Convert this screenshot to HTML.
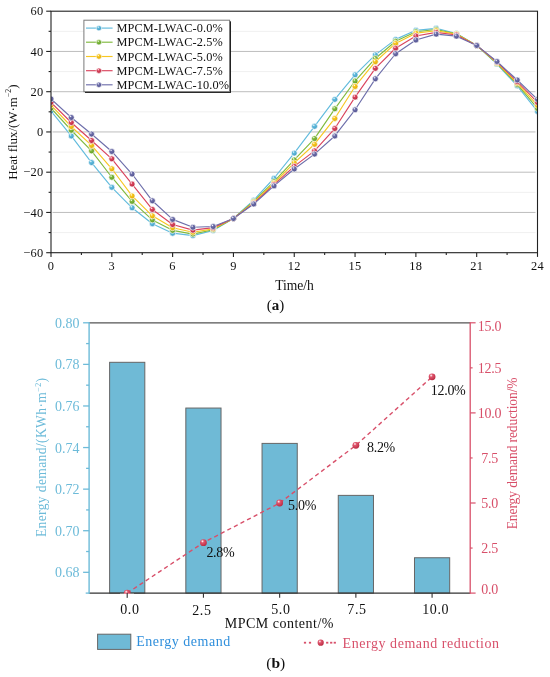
<!DOCTYPE html>
<html><head><meta charset="utf-8"><title>Figure</title>
<style>html,body{margin:0;padding:0;background:#fff}svg{display:block}</style></head>
<body>
<svg width="550" height="677" viewBox="0 0 550 677" font-family="'Liberation Serif', serif">
<defs>
<radialGradient id="gblue" cx="0.38" cy="0.32" r="0.7"><stop offset="0" stop-color="#ffffff"/><stop offset="0.28" stop-color="#62bbdd" stop-opacity="1"/><stop offset="1" stop-color="#3f9cc4"/></radialGradient>
<radialGradient id="ggreen" cx="0.38" cy="0.32" r="0.7"><stop offset="0" stop-color="#ffffff"/><stop offset="0.28" stop-color="#80ba3e" stop-opacity="1"/><stop offset="1" stop-color="#5f9a25"/></radialGradient>
<radialGradient id="gyellow" cx="0.38" cy="0.32" r="0.7"><stop offset="0" stop-color="#ffffff"/><stop offset="0.28" stop-color="#f7c722" stop-opacity="1"/><stop offset="1" stop-color="#e0a800"/></radialGradient>
<radialGradient id="gred" cx="0.38" cy="0.32" r="0.7"><stop offset="0" stop-color="#ffffff"/><stop offset="0.28" stop-color="#da455e" stop-opacity="1"/><stop offset="1" stop-color="#b8283f"/></radialGradient>
<radialGradient id="gpurple" cx="0.38" cy="0.32" r="0.7"><stop offset="0" stop-color="#ffffff"/><stop offset="0.28" stop-color="#6e6fab" stop-opacity="1"/><stop offset="1" stop-color="#4f4f8c"/></radialGradient>
<radialGradient id="gr2" cx="0.36" cy="0.3" r="0.75"><stop offset="0" stop-color="#ffffff"/><stop offset="0.3" stop-color="#e0566e"/><stop offset="1" stop-color="#b8283f"/></radialGradient>
<clipPath id="clipA"><rect x="51.0" y="11.2" width="486.5" height="241.5"/></clipPath>
</defs>
<rect width="550" height="677" fill="#ffffff"/>
<line x1="52.5" x2="535.5" y1="232.57" y2="232.57" stroke="#f0f0f0" stroke-width="1"/>
<line x1="52.5" x2="535.5" y1="212.45" y2="212.45" stroke="#b9b9b9" stroke-width="0.95"/>
<line x1="52.5" x2="535.5" y1="192.32" y2="192.32" stroke="#f0f0f0" stroke-width="1"/>
<line x1="52.5" x2="535.5" y1="172.20" y2="172.20" stroke="#b9b9b9" stroke-width="0.95"/>
<line x1="52.5" x2="535.5" y1="152.07" y2="152.07" stroke="#f0f0f0" stroke-width="1"/>
<line x1="52.5" x2="535.5" y1="131.95" y2="131.95" stroke="#b9b9b9" stroke-width="0.95"/>
<line x1="52.5" x2="535.5" y1="111.82" y2="111.82" stroke="#f0f0f0" stroke-width="1"/>
<line x1="52.5" x2="535.5" y1="91.70" y2="91.70" stroke="#b9b9b9" stroke-width="0.95"/>
<line x1="52.5" x2="535.5" y1="71.57" y2="71.57" stroke="#f0f0f0" stroke-width="1"/>
<line x1="52.5" x2="535.5" y1="51.45" y2="51.45" stroke="#b9b9b9" stroke-width="0.95"/>
<line x1="52.5" x2="535.5" y1="31.32" y2="31.32" stroke="#f0f0f0" stroke-width="1"/>
<g clip-path="url(#clipA)">
<polyline points="51.00,111.02 71.27,135.97 91.54,162.54 111.81,187.29 132.08,207.82 152.35,223.72 172.62,233.18 192.90,235.59 213.17,230.56 233.44,218.49 253.71,200.17 273.98,178.24 294.25,153.08 314.52,126.31 334.79,99.35 355.06,74.79 375.33,54.87 395.60,39.38 415.88,30.32 436.15,28.31 456.42,33.54 476.69,45.41 496.96,64.13 517.23,85.86 537.50,111.42" fill="none" stroke="#62bbdd" stroke-width="1.15" stroke-linejoin="round"/>
<circle cx="51.00" cy="111.02" r="2.95" fill="url(#gblue)" stroke="#fff" stroke-opacity="0.85" stroke-width="0.8"/>
<circle cx="71.27" cy="135.97" r="2.95" fill="url(#gblue)" stroke="#fff" stroke-opacity="0.85" stroke-width="0.8"/>
<circle cx="91.54" cy="162.54" r="2.95" fill="url(#gblue)" stroke="#fff" stroke-opacity="0.85" stroke-width="0.8"/>
<circle cx="111.81" cy="187.29" r="2.95" fill="url(#gblue)" stroke="#fff" stroke-opacity="0.85" stroke-width="0.8"/>
<circle cx="132.08" cy="207.82" r="2.95" fill="url(#gblue)" stroke="#fff" stroke-opacity="0.85" stroke-width="0.8"/>
<circle cx="152.35" cy="223.72" r="2.95" fill="url(#gblue)" stroke="#fff" stroke-opacity="0.85" stroke-width="0.8"/>
<circle cx="172.62" cy="233.18" r="2.95" fill="url(#gblue)" stroke="#fff" stroke-opacity="0.85" stroke-width="0.8"/>
<circle cx="192.90" cy="235.59" r="2.95" fill="url(#gblue)" stroke="#fff" stroke-opacity="0.85" stroke-width="0.8"/>
<circle cx="213.17" cy="230.56" r="2.95" fill="url(#gblue)" stroke="#fff" stroke-opacity="0.85" stroke-width="0.8"/>
<circle cx="233.44" cy="218.49" r="2.95" fill="url(#gblue)" stroke="#fff" stroke-opacity="0.85" stroke-width="0.8"/>
<circle cx="253.71" cy="200.17" r="2.95" fill="url(#gblue)" stroke="#fff" stroke-opacity="0.85" stroke-width="0.8"/>
<circle cx="273.98" cy="178.24" r="2.95" fill="url(#gblue)" stroke="#fff" stroke-opacity="0.85" stroke-width="0.8"/>
<circle cx="294.25" cy="153.08" r="2.95" fill="url(#gblue)" stroke="#fff" stroke-opacity="0.85" stroke-width="0.8"/>
<circle cx="314.52" cy="126.31" r="2.95" fill="url(#gblue)" stroke="#fff" stroke-opacity="0.85" stroke-width="0.8"/>
<circle cx="334.79" cy="99.35" r="2.95" fill="url(#gblue)" stroke="#fff" stroke-opacity="0.85" stroke-width="0.8"/>
<circle cx="355.06" cy="74.79" r="2.95" fill="url(#gblue)" stroke="#fff" stroke-opacity="0.85" stroke-width="0.8"/>
<circle cx="375.33" cy="54.87" r="2.95" fill="url(#gblue)" stroke="#fff" stroke-opacity="0.85" stroke-width="0.8"/>
<circle cx="395.60" cy="39.38" r="2.95" fill="url(#gblue)" stroke="#fff" stroke-opacity="0.85" stroke-width="0.8"/>
<circle cx="415.88" cy="30.32" r="2.95" fill="url(#gblue)" stroke="#fff" stroke-opacity="0.85" stroke-width="0.8"/>
<circle cx="436.15" cy="28.31" r="2.95" fill="url(#gblue)" stroke="#fff" stroke-opacity="0.85" stroke-width="0.8"/>
<circle cx="456.42" cy="33.54" r="2.95" fill="url(#gblue)" stroke="#fff" stroke-opacity="0.85" stroke-width="0.8"/>
<circle cx="476.69" cy="45.41" r="2.95" fill="url(#gblue)" stroke="#fff" stroke-opacity="0.85" stroke-width="0.8"/>
<circle cx="496.96" cy="64.13" r="2.95" fill="url(#gblue)" stroke="#fff" stroke-opacity="0.85" stroke-width="0.8"/>
<circle cx="517.23" cy="85.86" r="2.95" fill="url(#gblue)" stroke="#fff" stroke-opacity="0.85" stroke-width="0.8"/>
<circle cx="537.50" cy="111.42" r="2.95" fill="url(#gblue)" stroke="#fff" stroke-opacity="0.85" stroke-width="0.8"/>
<polyline points="51.00,108.20 71.27,130.24 91.54,150.87 111.81,177.23 132.08,201.38 152.35,219.90 172.62,230.36 192.90,234.08 213.17,229.76 233.44,218.49 253.71,201.38 273.98,181.66 294.25,159.92 314.52,138.59 334.79,108.81 355.06,81.03 375.33,58.49 395.60,41.19 415.88,31.73 436.15,29.51 456.42,33.74 476.69,45.41 496.96,63.52 517.23,84.46 537.50,108.40" fill="none" stroke="#80ba3e" stroke-width="1.15" stroke-linejoin="round"/>
<circle cx="51.00" cy="108.20" r="2.95" fill="url(#ggreen)" stroke="#fff" stroke-opacity="0.85" stroke-width="0.8"/>
<circle cx="71.27" cy="130.24" r="2.95" fill="url(#ggreen)" stroke="#fff" stroke-opacity="0.85" stroke-width="0.8"/>
<circle cx="91.54" cy="150.87" r="2.95" fill="url(#ggreen)" stroke="#fff" stroke-opacity="0.85" stroke-width="0.8"/>
<circle cx="111.81" cy="177.23" r="2.95" fill="url(#ggreen)" stroke="#fff" stroke-opacity="0.85" stroke-width="0.8"/>
<circle cx="132.08" cy="201.38" r="2.95" fill="url(#ggreen)" stroke="#fff" stroke-opacity="0.85" stroke-width="0.8"/>
<circle cx="152.35" cy="219.90" r="2.95" fill="url(#ggreen)" stroke="#fff" stroke-opacity="0.85" stroke-width="0.8"/>
<circle cx="172.62" cy="230.36" r="2.95" fill="url(#ggreen)" stroke="#fff" stroke-opacity="0.85" stroke-width="0.8"/>
<circle cx="192.90" cy="234.08" r="2.95" fill="url(#ggreen)" stroke="#fff" stroke-opacity="0.85" stroke-width="0.8"/>
<circle cx="213.17" cy="229.76" r="2.95" fill="url(#ggreen)" stroke="#fff" stroke-opacity="0.85" stroke-width="0.8"/>
<circle cx="233.44" cy="218.49" r="2.95" fill="url(#ggreen)" stroke="#fff" stroke-opacity="0.85" stroke-width="0.8"/>
<circle cx="253.71" cy="201.38" r="2.95" fill="url(#ggreen)" stroke="#fff" stroke-opacity="0.85" stroke-width="0.8"/>
<circle cx="273.98" cy="181.66" r="2.95" fill="url(#ggreen)" stroke="#fff" stroke-opacity="0.85" stroke-width="0.8"/>
<circle cx="294.25" cy="159.92" r="2.95" fill="url(#ggreen)" stroke="#fff" stroke-opacity="0.85" stroke-width="0.8"/>
<circle cx="314.52" cy="138.59" r="2.95" fill="url(#ggreen)" stroke="#fff" stroke-opacity="0.85" stroke-width="0.8"/>
<circle cx="334.79" cy="108.81" r="2.95" fill="url(#ggreen)" stroke="#fff" stroke-opacity="0.85" stroke-width="0.8"/>
<circle cx="355.06" cy="81.03" r="2.95" fill="url(#ggreen)" stroke="#fff" stroke-opacity="0.85" stroke-width="0.8"/>
<circle cx="375.33" cy="58.49" r="2.95" fill="url(#ggreen)" stroke="#fff" stroke-opacity="0.85" stroke-width="0.8"/>
<circle cx="395.60" cy="41.19" r="2.95" fill="url(#ggreen)" stroke="#fff" stroke-opacity="0.85" stroke-width="0.8"/>
<circle cx="415.88" cy="31.73" r="2.95" fill="url(#ggreen)" stroke="#fff" stroke-opacity="0.85" stroke-width="0.8"/>
<circle cx="436.15" cy="29.51" r="2.95" fill="url(#ggreen)" stroke="#fff" stroke-opacity="0.85" stroke-width="0.8"/>
<circle cx="456.42" cy="33.74" r="2.95" fill="url(#ggreen)" stroke="#fff" stroke-opacity="0.85" stroke-width="0.8"/>
<circle cx="476.69" cy="45.41" r="2.95" fill="url(#ggreen)" stroke="#fff" stroke-opacity="0.85" stroke-width="0.8"/>
<circle cx="496.96" cy="63.52" r="2.95" fill="url(#ggreen)" stroke="#fff" stroke-opacity="0.85" stroke-width="0.8"/>
<circle cx="517.23" cy="84.46" r="2.95" fill="url(#ggreen)" stroke="#fff" stroke-opacity="0.85" stroke-width="0.8"/>
<circle cx="537.50" cy="108.40" r="2.95" fill="url(#ggreen)" stroke="#fff" stroke-opacity="0.85" stroke-width="0.8"/>
<polyline points="51.00,105.18 71.27,126.52 91.54,145.43 111.81,168.78 132.08,195.95 152.35,215.87 172.62,227.75 192.90,232.27 213.17,228.85 233.44,218.49 253.71,202.39 273.98,183.27 294.25,162.94 314.52,144.23 334.79,118.47 355.06,86.47 375.33,61.71 395.60,43.40 415.88,33.14 436.15,30.72 456.42,34.14 476.69,45.41 496.96,62.92 517.23,83.05 537.50,105.38" fill="none" stroke="#f7c722" stroke-width="1.15" stroke-linejoin="round"/>
<circle cx="51.00" cy="105.18" r="2.95" fill="url(#gyellow)" stroke="#fff" stroke-opacity="0.85" stroke-width="0.8"/>
<circle cx="71.27" cy="126.52" r="2.95" fill="url(#gyellow)" stroke="#fff" stroke-opacity="0.85" stroke-width="0.8"/>
<circle cx="91.54" cy="145.43" r="2.95" fill="url(#gyellow)" stroke="#fff" stroke-opacity="0.85" stroke-width="0.8"/>
<circle cx="111.81" cy="168.78" r="2.95" fill="url(#gyellow)" stroke="#fff" stroke-opacity="0.85" stroke-width="0.8"/>
<circle cx="132.08" cy="195.95" r="2.95" fill="url(#gyellow)" stroke="#fff" stroke-opacity="0.85" stroke-width="0.8"/>
<circle cx="152.35" cy="215.87" r="2.95" fill="url(#gyellow)" stroke="#fff" stroke-opacity="0.85" stroke-width="0.8"/>
<circle cx="172.62" cy="227.75" r="2.95" fill="url(#gyellow)" stroke="#fff" stroke-opacity="0.85" stroke-width="0.8"/>
<circle cx="192.90" cy="232.27" r="2.95" fill="url(#gyellow)" stroke="#fff" stroke-opacity="0.85" stroke-width="0.8"/>
<circle cx="213.17" cy="228.85" r="2.95" fill="url(#gyellow)" stroke="#fff" stroke-opacity="0.85" stroke-width="0.8"/>
<circle cx="233.44" cy="218.49" r="2.95" fill="url(#gyellow)" stroke="#fff" stroke-opacity="0.85" stroke-width="0.8"/>
<circle cx="253.71" cy="202.39" r="2.95" fill="url(#gyellow)" stroke="#fff" stroke-opacity="0.85" stroke-width="0.8"/>
<circle cx="273.98" cy="183.27" r="2.95" fill="url(#gyellow)" stroke="#fff" stroke-opacity="0.85" stroke-width="0.8"/>
<circle cx="294.25" cy="162.94" r="2.95" fill="url(#gyellow)" stroke="#fff" stroke-opacity="0.85" stroke-width="0.8"/>
<circle cx="314.52" cy="144.23" r="2.95" fill="url(#gyellow)" stroke="#fff" stroke-opacity="0.85" stroke-width="0.8"/>
<circle cx="334.79" cy="118.47" r="2.95" fill="url(#gyellow)" stroke="#fff" stroke-opacity="0.85" stroke-width="0.8"/>
<circle cx="355.06" cy="86.47" r="2.95" fill="url(#gyellow)" stroke="#fff" stroke-opacity="0.85" stroke-width="0.8"/>
<circle cx="375.33" cy="61.71" r="2.95" fill="url(#gyellow)" stroke="#fff" stroke-opacity="0.85" stroke-width="0.8"/>
<circle cx="395.60" cy="43.40" r="2.95" fill="url(#gyellow)" stroke="#fff" stroke-opacity="0.85" stroke-width="0.8"/>
<circle cx="415.88" cy="33.14" r="2.95" fill="url(#gyellow)" stroke="#fff" stroke-opacity="0.85" stroke-width="0.8"/>
<circle cx="436.15" cy="30.72" r="2.95" fill="url(#gyellow)" stroke="#fff" stroke-opacity="0.85" stroke-width="0.8"/>
<circle cx="456.42" cy="34.14" r="2.95" fill="url(#gyellow)" stroke="#fff" stroke-opacity="0.85" stroke-width="0.8"/>
<circle cx="476.69" cy="45.41" r="2.95" fill="url(#gyellow)" stroke="#fff" stroke-opacity="0.85" stroke-width="0.8"/>
<circle cx="496.96" cy="62.92" r="2.95" fill="url(#gyellow)" stroke="#fff" stroke-opacity="0.85" stroke-width="0.8"/>
<circle cx="517.23" cy="83.05" r="2.95" fill="url(#gyellow)" stroke="#fff" stroke-opacity="0.85" stroke-width="0.8"/>
<circle cx="537.50" cy="105.38" r="2.95" fill="url(#gyellow)" stroke="#fff" stroke-opacity="0.85" stroke-width="0.8"/>
<polyline points="51.00,102.37 71.27,122.49 91.54,140.50 111.81,158.82 132.08,184.07 152.35,209.43 172.62,224.52 192.90,230.16 213.17,227.64 233.44,218.49 253.71,203.39 273.98,184.68 294.25,166.36 314.52,150.87 334.79,128.53 355.06,97.13 375.33,68.36 395.60,48.23 415.88,35.95 436.15,32.33 456.42,34.95 476.69,45.41 496.96,62.12 517.23,81.64 537.50,102.37" fill="none" stroke="#da455e" stroke-width="1.15" stroke-linejoin="round"/>
<circle cx="51.00" cy="102.37" r="2.95" fill="url(#gred)" stroke="#fff" stroke-opacity="0.85" stroke-width="0.8"/>
<circle cx="71.27" cy="122.49" r="2.95" fill="url(#gred)" stroke="#fff" stroke-opacity="0.85" stroke-width="0.8"/>
<circle cx="91.54" cy="140.50" r="2.95" fill="url(#gred)" stroke="#fff" stroke-opacity="0.85" stroke-width="0.8"/>
<circle cx="111.81" cy="158.82" r="2.95" fill="url(#gred)" stroke="#fff" stroke-opacity="0.85" stroke-width="0.8"/>
<circle cx="132.08" cy="184.07" r="2.95" fill="url(#gred)" stroke="#fff" stroke-opacity="0.85" stroke-width="0.8"/>
<circle cx="152.35" cy="209.43" r="2.95" fill="url(#gred)" stroke="#fff" stroke-opacity="0.85" stroke-width="0.8"/>
<circle cx="172.62" cy="224.52" r="2.95" fill="url(#gred)" stroke="#fff" stroke-opacity="0.85" stroke-width="0.8"/>
<circle cx="192.90" cy="230.16" r="2.95" fill="url(#gred)" stroke="#fff" stroke-opacity="0.85" stroke-width="0.8"/>
<circle cx="213.17" cy="227.64" r="2.95" fill="url(#gred)" stroke="#fff" stroke-opacity="0.85" stroke-width="0.8"/>
<circle cx="233.44" cy="218.49" r="2.95" fill="url(#gred)" stroke="#fff" stroke-opacity="0.85" stroke-width="0.8"/>
<circle cx="253.71" cy="203.39" r="2.95" fill="url(#gred)" stroke="#fff" stroke-opacity="0.85" stroke-width="0.8"/>
<circle cx="273.98" cy="184.68" r="2.95" fill="url(#gred)" stroke="#fff" stroke-opacity="0.85" stroke-width="0.8"/>
<circle cx="294.25" cy="166.36" r="2.95" fill="url(#gred)" stroke="#fff" stroke-opacity="0.85" stroke-width="0.8"/>
<circle cx="314.52" cy="150.87" r="2.95" fill="url(#gred)" stroke="#fff" stroke-opacity="0.85" stroke-width="0.8"/>
<circle cx="334.79" cy="128.53" r="2.95" fill="url(#gred)" stroke="#fff" stroke-opacity="0.85" stroke-width="0.8"/>
<circle cx="355.06" cy="97.13" r="2.95" fill="url(#gred)" stroke="#fff" stroke-opacity="0.85" stroke-width="0.8"/>
<circle cx="375.33" cy="68.36" r="2.95" fill="url(#gred)" stroke="#fff" stroke-opacity="0.85" stroke-width="0.8"/>
<circle cx="395.60" cy="48.23" r="2.95" fill="url(#gred)" stroke="#fff" stroke-opacity="0.85" stroke-width="0.8"/>
<circle cx="415.88" cy="35.95" r="2.95" fill="url(#gred)" stroke="#fff" stroke-opacity="0.85" stroke-width="0.8"/>
<circle cx="436.15" cy="32.33" r="2.95" fill="url(#gred)" stroke="#fff" stroke-opacity="0.85" stroke-width="0.8"/>
<circle cx="456.42" cy="34.95" r="2.95" fill="url(#gred)" stroke="#fff" stroke-opacity="0.85" stroke-width="0.8"/>
<circle cx="476.69" cy="45.41" r="2.95" fill="url(#gred)" stroke="#fff" stroke-opacity="0.85" stroke-width="0.8"/>
<circle cx="496.96" cy="62.12" r="2.95" fill="url(#gred)" stroke="#fff" stroke-opacity="0.85" stroke-width="0.8"/>
<circle cx="517.23" cy="81.64" r="2.95" fill="url(#gred)" stroke="#fff" stroke-opacity="0.85" stroke-width="0.8"/>
<circle cx="537.50" cy="102.37" r="2.95" fill="url(#gred)" stroke="#fff" stroke-opacity="0.85" stroke-width="0.8"/>
<polyline points="51.00,98.94 71.27,117.46 91.54,134.06 111.81,151.47 132.08,174.01 152.35,200.78 172.62,219.39 192.90,227.24 213.17,226.54 233.44,218.49 253.71,204.00 273.98,185.88 294.25,168.98 314.52,154.09 334.79,135.97 355.06,109.81 375.33,78.82 395.60,53.76 415.88,39.98 436.15,34.14 456.42,36.16 476.69,45.41 496.96,61.51 517.23,80.03 537.50,99.35" fill="none" stroke="#6e6fab" stroke-width="1.15" stroke-linejoin="round"/>
<circle cx="51.00" cy="98.94" r="2.95" fill="url(#gpurple)" stroke="#fff" stroke-opacity="0.85" stroke-width="0.8"/>
<circle cx="71.27" cy="117.46" r="2.95" fill="url(#gpurple)" stroke="#fff" stroke-opacity="0.85" stroke-width="0.8"/>
<circle cx="91.54" cy="134.06" r="2.95" fill="url(#gpurple)" stroke="#fff" stroke-opacity="0.85" stroke-width="0.8"/>
<circle cx="111.81" cy="151.47" r="2.95" fill="url(#gpurple)" stroke="#fff" stroke-opacity="0.85" stroke-width="0.8"/>
<circle cx="132.08" cy="174.01" r="2.95" fill="url(#gpurple)" stroke="#fff" stroke-opacity="0.85" stroke-width="0.8"/>
<circle cx="152.35" cy="200.78" r="2.95" fill="url(#gpurple)" stroke="#fff" stroke-opacity="0.85" stroke-width="0.8"/>
<circle cx="172.62" cy="219.39" r="2.95" fill="url(#gpurple)" stroke="#fff" stroke-opacity="0.85" stroke-width="0.8"/>
<circle cx="192.90" cy="227.24" r="2.95" fill="url(#gpurple)" stroke="#fff" stroke-opacity="0.85" stroke-width="0.8"/>
<circle cx="213.17" cy="226.54" r="2.95" fill="url(#gpurple)" stroke="#fff" stroke-opacity="0.85" stroke-width="0.8"/>
<circle cx="233.44" cy="218.49" r="2.95" fill="url(#gpurple)" stroke="#fff" stroke-opacity="0.85" stroke-width="0.8"/>
<circle cx="253.71" cy="204.00" r="2.95" fill="url(#gpurple)" stroke="#fff" stroke-opacity="0.85" stroke-width="0.8"/>
<circle cx="273.98" cy="185.88" r="2.95" fill="url(#gpurple)" stroke="#fff" stroke-opacity="0.85" stroke-width="0.8"/>
<circle cx="294.25" cy="168.98" r="2.95" fill="url(#gpurple)" stroke="#fff" stroke-opacity="0.85" stroke-width="0.8"/>
<circle cx="314.52" cy="154.09" r="2.95" fill="url(#gpurple)" stroke="#fff" stroke-opacity="0.85" stroke-width="0.8"/>
<circle cx="334.79" cy="135.97" r="2.95" fill="url(#gpurple)" stroke="#fff" stroke-opacity="0.85" stroke-width="0.8"/>
<circle cx="355.06" cy="109.81" r="2.95" fill="url(#gpurple)" stroke="#fff" stroke-opacity="0.85" stroke-width="0.8"/>
<circle cx="375.33" cy="78.82" r="2.95" fill="url(#gpurple)" stroke="#fff" stroke-opacity="0.85" stroke-width="0.8"/>
<circle cx="395.60" cy="53.76" r="2.95" fill="url(#gpurple)" stroke="#fff" stroke-opacity="0.85" stroke-width="0.8"/>
<circle cx="415.88" cy="39.98" r="2.95" fill="url(#gpurple)" stroke="#fff" stroke-opacity="0.85" stroke-width="0.8"/>
<circle cx="436.15" cy="34.14" r="2.95" fill="url(#gpurple)" stroke="#fff" stroke-opacity="0.85" stroke-width="0.8"/>
<circle cx="456.42" cy="36.16" r="2.95" fill="url(#gpurple)" stroke="#fff" stroke-opacity="0.85" stroke-width="0.8"/>
<circle cx="476.69" cy="45.41" r="2.95" fill="url(#gpurple)" stroke="#fff" stroke-opacity="0.85" stroke-width="0.8"/>
<circle cx="496.96" cy="61.51" r="2.95" fill="url(#gpurple)" stroke="#fff" stroke-opacity="0.85" stroke-width="0.8"/>
<circle cx="517.23" cy="80.03" r="2.95" fill="url(#gpurple)" stroke="#fff" stroke-opacity="0.85" stroke-width="0.8"/>
<circle cx="537.50" cy="99.35" r="2.95" fill="url(#gpurple)" stroke="#fff" stroke-opacity="0.85" stroke-width="0.8"/>
</g>
<rect x="51.0" y="11.2" width="486.5" height="241.5" fill="none" stroke="#222" stroke-width="1.1"/>
<line x1="46.2" x2="51.0" y1="252.70" y2="252.70" stroke="#222" stroke-width="1.1"/>
<text x="43.6" y="256.95" font-size="12.4" letter-spacing="0.35" text-anchor="end" fill="#111">−60</text>
<line x1="48.6" x2="51.0" y1="232.57" y2="232.57" stroke="#222" stroke-width="1.1"/>
<line x1="46.2" x2="51.0" y1="212.45" y2="212.45" stroke="#222" stroke-width="1.1"/>
<text x="43.6" y="216.70" font-size="12.4" letter-spacing="0.35" text-anchor="end" fill="#111">−40</text>
<line x1="48.6" x2="51.0" y1="192.32" y2="192.32" stroke="#222" stroke-width="1.1"/>
<line x1="46.2" x2="51.0" y1="172.20" y2="172.20" stroke="#222" stroke-width="1.1"/>
<text x="43.6" y="176.45" font-size="12.4" letter-spacing="0.35" text-anchor="end" fill="#111">−20</text>
<line x1="48.6" x2="51.0" y1="152.07" y2="152.07" stroke="#222" stroke-width="1.1"/>
<line x1="46.2" x2="51.0" y1="131.95" y2="131.95" stroke="#222" stroke-width="1.1"/>
<text x="43.6" y="136.20" font-size="12.4" letter-spacing="0.35" text-anchor="end" fill="#111">0</text>
<line x1="48.6" x2="51.0" y1="111.82" y2="111.82" stroke="#222" stroke-width="1.1"/>
<line x1="46.2" x2="51.0" y1="91.70" y2="91.70" stroke="#222" stroke-width="1.1"/>
<text x="43.6" y="95.95" font-size="12.4" letter-spacing="0.35" text-anchor="end" fill="#111">20</text>
<line x1="48.6" x2="51.0" y1="71.57" y2="71.57" stroke="#222" stroke-width="1.1"/>
<line x1="46.2" x2="51.0" y1="51.45" y2="51.45" stroke="#222" stroke-width="1.1"/>
<text x="43.6" y="55.70" font-size="12.4" letter-spacing="0.35" text-anchor="end" fill="#111">40</text>
<line x1="48.6" x2="51.0" y1="31.32" y2="31.32" stroke="#222" stroke-width="1.1"/>
<line x1="46.2" x2="51.0" y1="11.20" y2="11.20" stroke="#222" stroke-width="1.1"/>
<text x="43.6" y="15.45" font-size="12.4" letter-spacing="0.35" text-anchor="end" fill="#111">60</text>
<line x1="51.00" x2="51.00" y1="252.7" y2="256.9" stroke="#222" stroke-width="1.1"/>
<text x="51.00" y="269.5" font-size="12.4" letter-spacing="0.35" text-anchor="middle" fill="#111">0</text>
<line x1="81.41" x2="81.41" y1="252.7" y2="254.89999999999998" stroke="#222" stroke-width="1.1"/>
<line x1="111.81" x2="111.81" y1="252.7" y2="256.9" stroke="#222" stroke-width="1.1"/>
<text x="111.81" y="269.5" font-size="12.4" letter-spacing="0.35" text-anchor="middle" fill="#111">3</text>
<line x1="142.22" x2="142.22" y1="252.7" y2="254.89999999999998" stroke="#222" stroke-width="1.1"/>
<line x1="172.62" x2="172.62" y1="252.7" y2="256.9" stroke="#222" stroke-width="1.1"/>
<text x="172.62" y="269.5" font-size="12.4" letter-spacing="0.35" text-anchor="middle" fill="#111">6</text>
<line x1="203.03" x2="203.03" y1="252.7" y2="254.89999999999998" stroke="#222" stroke-width="1.1"/>
<line x1="233.44" x2="233.44" y1="252.7" y2="256.9" stroke="#222" stroke-width="1.1"/>
<text x="233.44" y="269.5" font-size="12.4" letter-spacing="0.35" text-anchor="middle" fill="#111">9</text>
<line x1="263.84" x2="263.84" y1="252.7" y2="254.89999999999998" stroke="#222" stroke-width="1.1"/>
<line x1="294.25" x2="294.25" y1="252.7" y2="256.9" stroke="#222" stroke-width="1.1"/>
<text x="294.25" y="269.5" font-size="12.4" letter-spacing="0.35" text-anchor="middle" fill="#111">12</text>
<line x1="324.66" x2="324.66" y1="252.7" y2="254.89999999999998" stroke="#222" stroke-width="1.1"/>
<line x1="355.06" x2="355.06" y1="252.7" y2="256.9" stroke="#222" stroke-width="1.1"/>
<text x="355.06" y="269.5" font-size="12.4" letter-spacing="0.35" text-anchor="middle" fill="#111">15</text>
<line x1="385.47" x2="385.47" y1="252.7" y2="254.89999999999998" stroke="#222" stroke-width="1.1"/>
<line x1="415.88" x2="415.88" y1="252.7" y2="256.9" stroke="#222" stroke-width="1.1"/>
<text x="415.88" y="269.5" font-size="12.4" letter-spacing="0.35" text-anchor="middle" fill="#111">18</text>
<line x1="446.28" x2="446.28" y1="252.7" y2="254.89999999999998" stroke="#222" stroke-width="1.1"/>
<line x1="476.69" x2="476.69" y1="252.7" y2="256.9" stroke="#222" stroke-width="1.1"/>
<text x="476.69" y="269.5" font-size="12.4" letter-spacing="0.35" text-anchor="middle" fill="#111">21</text>
<line x1="507.09" x2="507.09" y1="252.7" y2="254.89999999999998" stroke="#222" stroke-width="1.1"/>
<line x1="537.50" x2="537.50" y1="252.7" y2="256.9" stroke="#222" stroke-width="1.1"/>
<text x="537.50" y="269.5" font-size="12.4" letter-spacing="0.35" text-anchor="middle" fill="#111">24</text>
<text x="294.6" y="290.4" font-size="13.6" letter-spacing="-0.05" text-anchor="middle" fill="#111">Time/h</text>
<text transform="translate(16.5,132.2) rotate(-90)" font-size="12.9" text-anchor="middle" fill="#111">Heat flux/(W·m<tspan font-size="7.8" dy="-5.2">−2</tspan><tspan dy="5.2">)</tspan></text>
<text x="275.5" y="310.3" font-size="15" text-anchor="middle" fill="#111">(<tspan font-weight="bold">a</tspan>)</text>
<rect x="85.0" y="21.3" width="145.9" height="71.6" fill="#000"/>
<rect x="83.9" y="20.2" width="145.7" height="71.5" fill="#fff" stroke="#7a7a7a" stroke-width="1"/>
<line x1="86" x2="112.6" y1="28.1" y2="28.1" stroke="#62bbdd" stroke-width="1.15"/>
<circle cx="98.9" cy="28.1" r="2.7" fill="url(#gblue)" stroke="#fff" stroke-opacity="0.8" stroke-width="0.8"/>
<text x="116.4" y="32.1" font-size="12.3" letter-spacing="0.13" fill="#111">MPCM-LWAC-0.0%</text>
<line x1="86" x2="112.6" y1="42.2" y2="42.2" stroke="#80ba3e" stroke-width="1.15"/>
<circle cx="98.9" cy="42.2" r="2.7" fill="url(#ggreen)" stroke="#fff" stroke-opacity="0.8" stroke-width="0.8"/>
<text x="116.4" y="46.2" font-size="12.3" letter-spacing="0.13" fill="#111">MPCM-LWAC-2.5%</text>
<line x1="86" x2="112.6" y1="56.5" y2="56.5" stroke="#f7c722" stroke-width="1.15"/>
<circle cx="98.9" cy="56.5" r="2.7" fill="url(#gyellow)" stroke="#fff" stroke-opacity="0.8" stroke-width="0.8"/>
<text x="116.4" y="60.5" font-size="12.3" letter-spacing="0.13" fill="#111">MPCM-LWAC-5.0%</text>
<line x1="86" x2="112.6" y1="70.7" y2="70.7" stroke="#da455e" stroke-width="1.15"/>
<circle cx="98.9" cy="70.7" r="2.7" fill="url(#gred)" stroke="#fff" stroke-opacity="0.8" stroke-width="0.8"/>
<text x="116.4" y="74.7" font-size="12.3" letter-spacing="0.13" fill="#111">MPCM-LWAC-7.5%</text>
<line x1="86" x2="112.6" y1="84.8" y2="84.8" stroke="#6e6fab" stroke-width="1.15"/>
<circle cx="98.9" cy="84.8" r="2.7" fill="url(#gpurple)" stroke="#fff" stroke-opacity="0.8" stroke-width="0.8"/>
<text x="116.4" y="88.8" font-size="12.3" letter-spacing="0.13" fill="#111">MPCM-LWAC-10.0%</text>
<rect x="109.61" y="362.31" width="35.2" height="230.79" fill="#6fbad6" stroke="#666" stroke-width="1"/>
<rect x="185.83" y="408.05" width="35.2" height="185.05" fill="#6fbad6" stroke="#666" stroke-width="1"/>
<rect x="262.05" y="443.40" width="35.2" height="149.70" fill="#6fbad6" stroke="#666" stroke-width="1"/>
<rect x="338.27" y="495.38" width="35.2" height="97.72" fill="#6fbad6" stroke="#666" stroke-width="1"/>
<rect x="414.49" y="557.75" width="35.2" height="35.35" fill="#6fbad6" stroke="#666" stroke-width="1"/>
<line x1="89.1" x2="470.2" y1="322.8" y2="322.8" stroke="#555" stroke-width="1.2"/>
<line x1="89.1" x2="470.2" y1="593.1" y2="593.1" stroke="#333" stroke-width="1.2"/>
<line x1="127.21" x2="127.21" y1="593.1" y2="597.7" stroke="#333" stroke-width="1.1"/>
<text x="129.90" y="613.6" font-size="14" letter-spacing="0.6" text-anchor="middle" fill="#111">0.0</text>
<line x1="203.43" x2="203.43" y1="593.1" y2="597.7" stroke="#333" stroke-width="1.1"/>
<text x="201.90" y="614.9" font-size="14" letter-spacing="0.6" text-anchor="middle" fill="#111">2.5</text>
<line x1="279.65" x2="279.65" y1="593.1" y2="597.7" stroke="#333" stroke-width="1.1"/>
<text x="280.90" y="613.6" font-size="14" letter-spacing="0.6" text-anchor="middle" fill="#111">5.0</text>
<line x1="355.87" x2="355.87" y1="593.1" y2="597.7" stroke="#333" stroke-width="1.1"/>
<text x="357.00" y="613.6" font-size="14" letter-spacing="0.6" text-anchor="middle" fill="#111">7.5</text>
<line x1="432.09" x2="432.09" y1="593.1" y2="597.7" stroke="#333" stroke-width="1.1"/>
<text x="435.70" y="613.6" font-size="14" letter-spacing="0.6" text-anchor="middle" fill="#111">10.0</text>
<line x1="89.1" x2="89.1" y1="322.2" y2="593.7" stroke="#6dbbd9" stroke-width="1.4"/>
<line x1="85.69999999999999" x2="89.1" y1="593.10" y2="593.10" stroke="#6dbbd9" stroke-width="1.3"/>
<line x1="83.1" x2="89.1" y1="572.31" y2="572.31" stroke="#6dbbd9" stroke-width="1.3"/>
<text x="79.4" y="577.31" font-size="14" letter-spacing="0" text-anchor="end" fill="#6dbbd9">0.68</text>
<line x1="86.1" x2="89.1" y1="551.52" y2="551.52" stroke="#6dbbd9" stroke-width="1.3"/>
<line x1="83.1" x2="89.1" y1="530.72" y2="530.72" stroke="#6dbbd9" stroke-width="1.3"/>
<text x="79.4" y="535.72" font-size="14" letter-spacing="0" text-anchor="end" fill="#6dbbd9">0.70</text>
<line x1="86.1" x2="89.1" y1="509.93" y2="509.93" stroke="#6dbbd9" stroke-width="1.3"/>
<line x1="83.1" x2="89.1" y1="489.14" y2="489.14" stroke="#6dbbd9" stroke-width="1.3"/>
<text x="79.4" y="494.14" font-size="14" letter-spacing="0" text-anchor="end" fill="#6dbbd9">0.72</text>
<line x1="86.1" x2="89.1" y1="468.35" y2="468.35" stroke="#6dbbd9" stroke-width="1.3"/>
<line x1="83.1" x2="89.1" y1="447.55" y2="447.55" stroke="#6dbbd9" stroke-width="1.3"/>
<text x="79.4" y="452.55" font-size="14" letter-spacing="0" text-anchor="end" fill="#6dbbd9">0.74</text>
<line x1="86.1" x2="89.1" y1="426.76" y2="426.76" stroke="#6dbbd9" stroke-width="1.3"/>
<line x1="83.1" x2="89.1" y1="405.97" y2="405.97" stroke="#6dbbd9" stroke-width="1.3"/>
<text x="79.4" y="410.97" font-size="14" letter-spacing="0" text-anchor="end" fill="#6dbbd9">0.76</text>
<line x1="86.1" x2="89.1" y1="385.18" y2="385.18" stroke="#6dbbd9" stroke-width="1.3"/>
<line x1="83.1" x2="89.1" y1="364.38" y2="364.38" stroke="#6dbbd9" stroke-width="1.3"/>
<text x="79.4" y="369.38" font-size="14" letter-spacing="0" text-anchor="end" fill="#6dbbd9">0.78</text>
<line x1="86.1" x2="89.1" y1="343.59" y2="343.59" stroke="#6dbbd9" stroke-width="1.3"/>
<line x1="83.1" x2="89.1" y1="322.80" y2="322.80" stroke="#6dbbd9" stroke-width="1.3"/>
<text x="79.4" y="327.80" font-size="14" letter-spacing="0" text-anchor="end" fill="#6dbbd9">0.80</text>
<line x1="470.2" x2="470.2" y1="322.2" y2="593.7" stroke="#d8506a" stroke-width="1.3"/>
<line x1="470.2" x2="475.59999999999997" y1="593.10" y2="593.10" stroke="#d8506a" stroke-width="1.2"/>
<text x="489.6" y="594.40" font-size="14" letter-spacing="-0.25" text-anchor="middle" fill="#d8506a">0.0</text>
<line x1="470.2" x2="472.59999999999997" y1="548.05" y2="548.05" stroke="#d8506a" stroke-width="1.2"/>
<text x="489.6" y="552.95" font-size="14" letter-spacing="-0.25" text-anchor="middle" fill="#d8506a">2.5</text>
<line x1="470.2" x2="475.59999999999997" y1="503.00" y2="503.00" stroke="#d8506a" stroke-width="1.2"/>
<text x="489.6" y="507.90" font-size="14" letter-spacing="-0.25" text-anchor="middle" fill="#d8506a">5.0</text>
<line x1="470.2" x2="472.59999999999997" y1="457.95" y2="457.95" stroke="#d8506a" stroke-width="1.2"/>
<text x="489.6" y="462.85" font-size="14" letter-spacing="-0.25" text-anchor="middle" fill="#d8506a">7.5</text>
<line x1="470.2" x2="475.59999999999997" y1="412.90" y2="412.90" stroke="#d8506a" stroke-width="1.2"/>
<text x="489.6" y="417.80" font-size="14" letter-spacing="-0.25" text-anchor="middle" fill="#d8506a">10.0</text>
<line x1="470.2" x2="472.59999999999997" y1="367.85" y2="367.85" stroke="#d8506a" stroke-width="1.2"/>
<text x="489.6" y="372.75" font-size="14" letter-spacing="-0.25" text-anchor="middle" fill="#d8506a">12.5</text>
<line x1="470.2" x2="475.59999999999997" y1="322.80" y2="322.80" stroke="#d8506a" stroke-width="1.2"/>
<text x="489.6" y="331.10" font-size="14" letter-spacing="-0.25" text-anchor="middle" fill="#d8506a">15.0</text>
<polyline points="127.21,593.10 203.43,542.64 279.65,503.00 355.87,445.34 432.09,376.86" fill="none" stroke="#d8506a" stroke-width="1.4" stroke-dasharray="4.2 3.2"/>
<circle cx="127.21" cy="593.10" r="3.4" fill="url(#gr2)"/>
<circle cx="203.43" cy="542.64" r="3.4" fill="url(#gr2)"/>
<circle cx="279.65" cy="503.00" r="3.4" fill="url(#gr2)"/>
<circle cx="355.87" cy="445.34" r="3.4" fill="url(#gr2)"/>
<circle cx="432.09" cy="376.86" r="3.4" fill="url(#gr2)"/>
<rect x="120" y="593.7" width="14" height="4" fill="#fff"/>
<line x1="127.21" x2="127.21" y1="593.1" y2="597.7" stroke="#333" stroke-width="1.1"/>
<text x="206.4" y="557.4" font-size="14" letter-spacing="-0.3" fill="#111">2.8%</text>
<text x="288.1" y="509.6" font-size="14" letter-spacing="-0.3" fill="#111">5.0%</text>
<text x="367.0" y="452.0" font-size="14" letter-spacing="-0.3" fill="#111">8.2%</text>
<text x="430.8" y="394.9" font-size="14" letter-spacing="-0.3" fill="#111">12.0%</text>
<text x="279.4" y="628.3" font-size="14" letter-spacing="0.5" text-anchor="middle" fill="#111">MPCM content/%</text>
<text transform="translate(46.3,457.3) rotate(-90)" font-size="13.6" letter-spacing="0.35" text-anchor="middle" fill="#6dbbd9">Energy demand/(KWh·m<tspan font-size="8.2" dy="-5.6">−2</tspan><tspan dy="5.6">)</tspan></text>
<text transform="translate(516.7,453.4) rotate(-90)" font-size="13.6" letter-spacing="-0.14" text-anchor="middle" fill="#d8506a">Energy demand reduction/%</text>
<rect x="97.6" y="634.2" width="33.2" height="15.2" fill="#6fbad6" stroke="#666" stroke-width="1"/>
<text x="136.2" y="646.0" font-size="14" letter-spacing="0.5" fill="#2f8fdc">Energy demand</text>
<rect x="303.9" y="641.8" width="2.2" height="1.8" fill="#d8506a"/>
<rect x="308.9" y="641.8" width="2.2" height="1.8" fill="#d8506a"/>
<rect x="326.09999999999997" y="641.8" width="2.2" height="1.8" fill="#d8506a"/>
<rect x="330.09999999999997" y="641.8" width="2.2" height="1.8" fill="#d8506a"/>
<rect x="333.7" y="641.8" width="2.2" height="1.8" fill="#d8506a"/>
<circle cx="320.7" cy="642.7" r="3.1" fill="url(#gr2)"/>
<text x="342.6" y="647.5" font-size="14" letter-spacing="0.55" fill="#d8506a">Energy demand reduction</text>
<text x="275.7" y="668.0" font-size="15.5" text-anchor="middle" fill="#111">(<tspan font-weight="bold">b</tspan>)</text>
</svg>
</body></html>
